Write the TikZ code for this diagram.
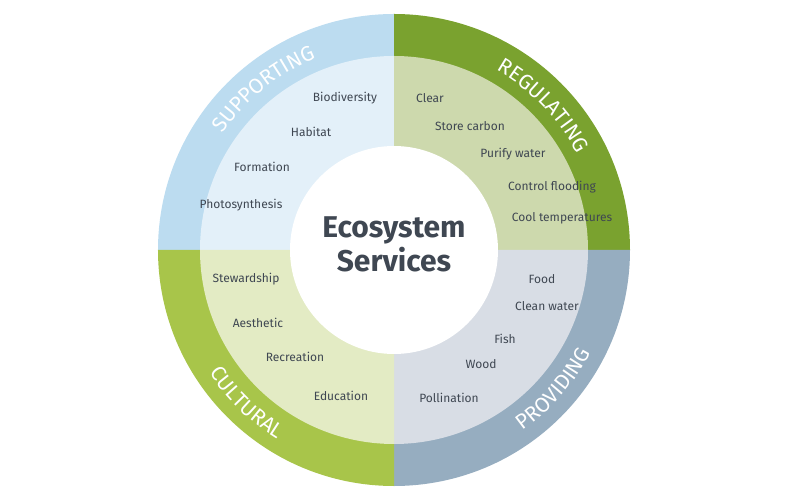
\documentclass[tikz,border=0pt]{standalone}
\usepackage{fontspec}
\setmainfont{Fira Sans}
\usetikzlibrary{positioning,decorations.text}
\definecolor{suppOut}{HTML}{BCDCF0}
\definecolor{suppIn}{HTML}{E3F0F9}
\definecolor{reguOut}{HTML}{7AA22F}
\definecolor{reguIn}{HTML}{CDD9AD}
\definecolor{provOut}{HTML}{96ADC0}
\definecolor{provIn}{HTML}{D8DDE5}
\definecolor{cultOut}{HTML}{A8C54A}
\definecolor{cultIn}{HTML}{E3EBC4}
\definecolor{inkgrey}{HTML}{3F4752}
\tikzset{
  item/.style={text=inkgrey, font=\fontsize{12}{14}\selectfont, inner sep=0pt},
  ringtext/.style={decorate, decoration={text along path, text align=center,
      text={|\fontsize{21}{22}\selectfont\color{white}|#1}}}
}
\begin{document}
\begin{tikzpicture}[x=1pt,y=1pt]
\useasboundingbox (-394,-250) rectangle (406,250);
\coordinate (c) at (0,0);
% quadrants, outer ring then inner part
\fill[suppOut] (c) -- (180:236) arc (180:90:236) -- cycle;
\fill[reguOut] (c) -- (90:236) arc (90:0:236) -- cycle;
\fill[provOut] (c) -- (0:236) arc (360:270:236) -- cycle;
\fill[cultOut] (c) -- (270:236) arc (270:180:236) -- cycle;
\fill[suppIn] (c) -- (180:194) arc (180:90:194) -- cycle;
\fill[reguIn] (c) -- (90:194) arc (90:0:194) -- cycle;
\fill[provIn] (c) -- (0:194) arc (360:270:194) -- cycle;
\fill[cultIn] (c) -- (270:194) arc (270:180:194) -- cycle;
\fill[white] (c) circle (104);
% curved headings
\path[ringtext=SUPPORTING] (164:207) arc (164:94:207);
\path[ringtext=REGULATING] (79:207) arc (79:9:207);
\path[ringtext=CULTURAL] (191:222) arc (191:261:222);
\path[ringtext=PROVIDING] (284:222) arc (284:354:222);
% centre
\node[text=inkgrey, font=\fontsize{30}{34}\selectfont\bfseries, align=center] (title) at (0,6) {Ecosystem\\Services};
% supporting
\node[item] (biod) at (-49,152) {Biodiversity};
\node[item] (habi) at (-83,118) {Habitat};
\node[item] (form) at (-132,83) {Formation};
\node[item] (phot) at (-153,45) {Photosynthesis};
% regulating
\node[item] (clea) at (36,152) {Clear};
\node[item] (stor) at (76,124) {Store carbon};
\node[item] (puri) at (119,96) {Purify water};
\node[item] (cont) at (158,63) {Control flooding};
\node[item] (cool) at (168,32) {Cool temperatures};
% providing
\node[item] (food) at (148,-29) {Food};
\node[item] (wate) at (153,-56) {Clean water};
\node[item] (fish) at (111,-89) {Fish};
\node[item] (wood) at (87,-114) {Wood};
\node[item] (poll) at (55,-148) {Pollination};
% cultural
\node[item] (stew) at (-148,-29) {Stewardship};
\node[item] (aest) at (-136,-73) {Aesthetic};
\node[item] (recr) at (-99,-107) {Recreation};
\node[item] (educ) at (-53,-146) {Education};
\end{tikzpicture}
\end{document}
